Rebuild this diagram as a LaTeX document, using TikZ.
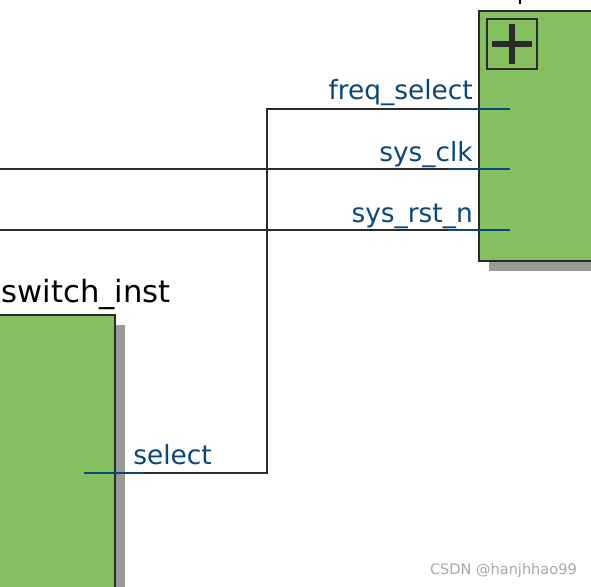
\documentclass[tikz,border=0pt]{standalone}
\usepackage{fontspec}
\setmainfont{DejaVu Sans}
\definecolor{blockgreen}{HTML}{84BF60}
\definecolor{blockedge}{HTML}{2B2B2B}
\definecolor{shadowgray}{HTML}{999999}
\definecolor{pinblue}{HTML}{0B4878}
\definecolor{wmgray}{HTML}{A8A8A8}
\tikzset{
  blockbox/.style={fill=blockgreen, draw=blockedge, line width=1.5pt},
  shadowbox/.style={fill=shadowgray, draw=none},
  wire/.style={draw=blockedge, line width=1.1pt},
  pinline/.style={draw=pinblue, line width=1.2pt},
  pinlabel/.style={text=pinblue, font=\fontsize{19.8pt}{22pt}\selectfont, inner sep=0pt},
  titlelabel/.style={text=black, font=\fontsize{23pt}{27pt}\selectfont, inner sep=0pt},
}
\begin{document}
\begin{tikzpicture}[x=0.75pt, y=-0.75pt]
\useasboundingbox (0,0) rectangle (591,586);
\clip (0,0) rectangle (591,586);
\fill[white] (0,0) rectangle (591,586);

% right block (top level instance)
\fill[shadowbox] (489,21) rectangle (600,271);
\path[blockbox] (479,11) rectangle (600,261);
\draw[blockedge, line width=1.5pt] (487,19) rectangle (537,69);
\fill[blockedge] (509,24) rectangle (515,64);
\fill[blockedge] (492,41) rectangle (532,47);
\fill[black] (519,-2) rectangle (521,4);

% left block
\fill[shadowbox] (105,325) rectangle (125,600);
\path[blockbox] (-10,315) rectangle (115,600);
\node[titlelabel, anchor=base east] (title) at (171,302) {switch\_inst};

% pin coordinates
\coordinate (fsin) at (448,109);
\coordinate (fsend) at (510,109);
\coordinate (clkin) at (448,169);
\coordinate (clkend) at (510,169);
\coordinate (rstin) at (448,230);
\coordinate (rstend) at (510,230);
\coordinate (selout) at (145,473);
\coordinate (selstart) at (84,473);
\coordinate (clksrc) at (-2,169);
\coordinate (rstsrc) at (-2,230);
\coordinate (bendtop) at (267,109);
\coordinate (bendbot) at (267,473);

% wires
\draw[wire] (selout) -- (bendbot) -- (bendtop) -- (fsin);
\draw[wire] (clksrc) -- (clkin);
\draw[wire] (rstsrc) -- (rstin);

% pins
\draw[pinline] (fsin) -- (fsend);
\draw[pinline] (clkin) -- (clkend);
\draw[pinline] (rstin) -- (rstend);
\draw[pinline] (selstart) -- (selout);

% pin labels
\node[pinlabel, anchor=base east] (lfs) at (473,99) {freq\_select};
\node[pinlabel, anchor=base east] (lclk) at (473,161) {sys\_clk};
\node[pinlabel, anchor=base east] (lrst) at (473,222) {sys\_rst\_n};
\node[pinlabel, anchor=base west] (lsel) at (133,464) {select};

% watermark
\node[text=wmgray, font=\fontsize{10.9pt}{12pt}\selectfont, inner sep=0pt, anchor=base east] (wm) at (577,574) {CSDN @hanjhhao99};
\end{tikzpicture}
\end{document}
